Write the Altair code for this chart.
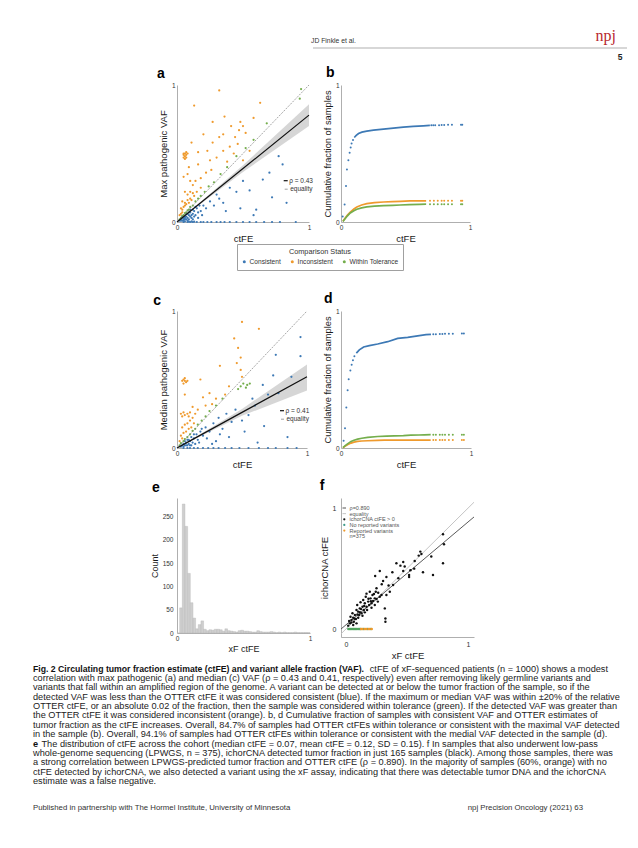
import altair as alt
import pandas as pd

FONT = "Liberation Sans"
BLUE, ORANGE, GREEN = "#3d79b5", "#ef9a2d", "#74ae4c"
STATUS = ["Consistent", "Inconsistent", "Within Tolerance"]

# ---------------- panel a : ctFE vs max pathogenic VAF ----------------
a_consistent = [(0.02,0.01),(0.03,0.02),(0.04,0.01),(0.05,0.03),(0.06,0.02),(0.07,0.04),(0.08,0.03),(0.09,0.05),(0.10,0.04),
    (0.05,0.01),(0.06,0.04),(0.07,0.02),(0.08,0.06),(0.09,0.02),(0.10,0.07),(0.11,0.03),(0.12,0.06),(0.13,0.08),(0.14,0.05),(0.15,0.10),
    (0.04,0.03),(0.03,0.01),(0.12,0.02),(0.16,0.03),(0.18,0.08),(0.20,0.12),(0.22,0.10),(0.25,0.15),(0.28,0.12),(0.30,0.20),
    (0.32,0.17),(0.35,0.14),(0.37,0.08),(0.40,0.25),(0.45,0.22),(0.50,0.30),(0.55,0.23),(0.60,0.09),(0.65,0.31),(0.70,0.36),
    (0.77,0.48),(0.80,0.42),(0.83,0.14),(0.72,0.18),(0.58,0.05),(0.48,0.10),
    (0.03,0.02),(0.04,0.04),(0.05,0.02),(0.06,0.03),(0.07,0.06),(0.08,0.01),(0.09,0.07),(0.11,0.05),(0.12,0.09),(0.10,0.09),
    (0.13,0.04),(0.14,0.11),(0.16,0.07),(0.17,0.12),(0.19,0.05),
    (0.05,0.0),(0.08,0.0),(0.10,0.0),(0.12,0.0),(0.15,0.0),(0.18,0.0),(0.20,0.0),(0.23,0.0),(0.26,0.0),(0.30,0.0),
    (0.33,0.0),(0.36,0.0),(0.40,0.0),(0.45,0.0),(0.50,0.0),(0.55,0.0),(0.60,0.0),(0.66,0.0),(0.72,0.0),(0.78,0.0),(0.90,0.0),
    (0.06,0.005),(0.09,0.003),(0.11,0.004),(0.13,0.002)]
a_inconsistent = [(0.32,0.96),(0.13,0.85),(0.63,0.87),(0.27,0.73),(0.36,0.77),(0.48,0.73),(0.50,0.70),(0.47,0.67),(0.52,0.65),
    (0.41,0.70),(0.58,0.76),(0.20,0.64),(0.35,0.64),(0.11,0.58),(0.16,0.51),(0.27,0.58),(0.23,0.52),(0.35,0.52),(0.40,0.55),
    (0.46,0.57),(0.43,0.50),(0.30,0.47),(0.38,0.44),(0.50,0.45),(0.55,0.52),
    (0.05,0.49),(0.06,0.50),(0.07,0.49),(0.06,0.48),(0.05,0.47),(0.07,0.47),(0.08,0.50),(0.06,0.46),(0.07,0.51),(0.05,0.50),
    (0.05,0.33),(0.08,0.35),(0.10,0.30),(0.12,0.27),(0.14,0.30),(0.18,0.32),(0.22,0.36),(0.26,0.38),(0.06,0.22),(0.08,0.20),
    (0.10,0.22),(0.12,0.21),(0.04,0.15),(0.06,0.14),(0.08,0.16),(0.10,0.17),(0.13,0.19),(0.15,0.22),(0.18,0.25),(0.03,0.10),
    (0.04,0.09),(0.05,0.11),(0.06,0.12),(0.07,0.13),(0.09,0.14),(0.11,0.16),(0.03,0.06),(0.04,0.07),(0.02,0.05),(0.16,0.42),
    (0.09,0.40),(0.32,0.62),(0.44,0.62),(0.25,0.45)]
a_tolerance = [(0.02,0.02),(0.03,0.03),(0.04,0.045),(0.05,0.05),(0.06,0.065),(0.07,0.07),(0.08,0.085),(0.09,0.09),(0.10,0.11),
    (0.12,0.12),(0.14,0.15),(0.16,0.17),(0.18,0.19),(0.21,0.22),(0.24,0.26),(0.28,0.29),(0.33,0.35),(0.38,0.40),(0.45,0.48),
    (0.52,0.54),(0.58,0.60),(0.68,0.72),(0.93,0.90),(0.94,0.97)]
a_fit_x = [0.0, 0.1, 0.5, 1.0]
a_fit_y = [0.0, 0.078, 0.39, 0.78]
a_fit_lo = [-0.01, 0.074, 0.365, 0.70]
a_fit_hi = [0.01, 0.082, 0.415, 0.86]
a_rho = "ρ = 0.43"

# ---------------- panel c : ctFE vs median pathogenic VAF ----------------
c_consistent = [(0.76,0.68),(0.74,0.53),(0.78,0.40),(0.70,0.39),(0.60,0.31),(0.55,0.24),(0.42,0.19),(0.35,0.14),(0.62,0.04),
    (0.85,0.08),(0.95,0.81),(0.95,0.67),(0.50,0.20),(0.45,0.28),(0.38,0.25),(0.32,0.22),(0.28,0.18),(0.25,0.12),(0.22,0.15),
    (0.20,0.09),(0.18,0.12),(0.16,0.06),(0.15,0.10),(0.13,0.07),(0.12,0.04),(0.11,0.08),(0.10,0.05),(0.09,0.03),(0.08,0.06),
    (0.07,0.04),(0.06,0.02),(0.05,0.03),(0.04,0.02),(0.03,0.01),(0.06,0.05),(0.08,0.02),(0.10,0.02),(0.14,0.03),(0.30,0.05),
    (0.40,0.08),(0.66,0.46),(0.58,0.36),(0.67,0.16),(0.52,0.12),(0.88,0.52),(0.05,0.01),(0.07,0.02),(0.09,0.06),(0.11,0.02),
    (0.13,0.10),(0.17,0.04),(0.19,0.14),(0.23,0.07),(0.27,0.03),(0.33,0.10),
    (0.05,0.0),(0.08,0.0),(0.10,0.0),(0.13,0.0),(0.16,0.0),(0.20,0.0),(0.24,0.0),(0.28,0.0),(0.32,0.0),(0.37,0.0),
    (0.42,0.0),(0.48,0.0),(0.55,0.0),(0.63,0.0),(0.70,0.0),(0.76,0.0),(0.85,0.0),(0.92,0.0)]
c_inconsistent = [(0.50,0.92),(0.63,0.87),(0.44,0.80),(0.47,0.73),(0.49,0.66),(0.46,0.62),(0.49,0.57),(0.50,0.52),(0.40,0.45),
    (0.37,0.39),(0.27,0.32),(0.22,0.31),(0.06,0.39),(0.18,0.50),(0.30,0.36),(0.25,0.40),
    (0.04,0.49),(0.05,0.50),(0.06,0.49),(0.07,0.48),(0.05,0.47),(0.08,0.49),(0.06,0.51),
    (0.03,0.25),(0.05,0.26),(0.06,0.24),(0.08,0.25),(0.09,0.23),(0.10,0.26),(0.04,0.23),
    (0.04,0.15),(0.06,0.17),(0.08,0.18),(0.10,0.20),(0.12,0.22),(0.14,0.25),(0.16,0.28),(0.03,0.09),(0.05,0.11),(0.07,0.12),
    (0.09,0.14),(0.11,0.15),(0.13,0.18),(0.02,0.05),(0.04,0.07),(0.20,0.37),(0.12,0.30),(0.33,0.60)]
c_tolerance = [(0.51,0.47),(0.54,0.46),(0.49,0.45),(0.53,0.44),(0.56,0.47),(0.47,0.43),
    (0.02,0.02),(0.03,0.035),(0.05,0.05),(0.06,0.065),(0.08,0.08),(0.10,0.10),(0.12,0.125),(0.14,0.14),(0.16,0.17),
    (0.19,0.20),(0.22,0.23),(0.25,0.27),(0.30,0.31),(0.35,0.36)]
c_fit_x = [0.0, 0.1, 0.5, 1.0]
c_fit_y = [0.0, 0.052, 0.26, 0.52]
c_fit_lo = [-0.01, 0.048, 0.235, 0.42]
c_fit_hi = [0.01, 0.056, 0.285, 0.61]
c_rho = "ρ = 0.41"

equality_x = [0.0, 1.0]
equality_y = [0.0, 1.0]

# ---------------- panels b, d : cumulative fraction of samples ----------------
b_curves = {
    "Consistent": {
        "line": [(0.103,0.617),(0.118,0.632),(0.136,0.646),(0.162,0.656),(0.20,0.663),(0.252,0.671),(0.329,0.678),
                 (0.406,0.685),(0.483,0.693),(0.56,0.698),(0.638,0.702),(0.689,0.705)],
        "dots": [(0.013,0.041),(0.028,0.127),(0.039,0.263),(0.046,0.383),(0.057,0.451),(0.067,0.505),(0.075,0.544),
                 (0.082,0.573),(0.093,0.598),(0.70,0.706),(0.715,0.706),(0.73,0.707),(0.76,0.707),(0.78,0.708),
                 (0.80,0.708),(0.83,0.71),(0.86,0.71),(0.93,0.71),(0.94,0.71)]},
    "Inconsistent": {
        "line": [(0.015,0.005),(0.03,0.025),(0.05,0.05),(0.072,0.073),(0.10,0.095),(0.123,0.11),(0.16,0.124),(0.20,0.134),
                 (0.26,0.141),(0.33,0.146),(0.40,0.149),(0.46,0.151),(0.535,0.154),(0.60,0.154),(0.66,0.154)],
        "dots": [(0.69,0.155),(0.72,0.155),(0.75,0.155),(0.78,0.155),(0.80,0.155),(0.83,0.155),(0.86,0.155),
                 (0.93,0.155),(0.94,0.155)]},
    "Within Tolerance": {
        "line": [(0.015,0.004),(0.03,0.022),(0.05,0.045),(0.072,0.066),(0.10,0.082),(0.123,0.093),(0.16,0.103),(0.20,0.11),
                 (0.26,0.116),(0.33,0.12),(0.40,0.122),(0.46,0.124),(0.53,0.127),(0.61,0.129),(0.66,0.13)],
        "dots": [(0.69,0.13),(0.72,0.13),(0.75,0.13),(0.78,0.13),(0.80,0.13),(0.83,0.13),(0.86,0.13),(0.93,0.13),(0.94,0.13)]},
}
d_curves = {
    "Consistent": {
        "line": [(0.118,0.692),(0.141,0.716),(0.174,0.737),(0.218,0.747),(0.282,0.759),(0.359,0.776),(0.436,0.80),
                 (0.513,0.807),(0.59,0.819),(0.654,0.827),(0.692,0.829)],
        "dots": [(0.02,0.053),(0.031,0.145),(0.041,0.296),(0.051,0.422),(0.059,0.501),(0.072,0.566),(0.082,0.607),
                 (0.092,0.641),(0.103,0.67),(0.71,0.83),(0.73,0.831),(0.76,0.832),(0.78,0.833),(0.80,0.834),
                 (0.83,0.834),(0.86,0.834),(0.93,0.835),(0.945,0.835)]},
    "Inconsistent": {
        "line": [(0.015,0.002),(0.03,0.012),(0.05,0.024),(0.077,0.036),(0.10,0.043),(0.128,0.048),(0.16,0.051),(0.205,0.053),
                 (0.28,0.056),(0.333,0.058),(0.42,0.058),(0.538,0.058),(0.60,0.058),(0.69,0.058)],
        "dots": [(0.71,0.058),(0.73,0.058),(0.76,0.058),(0.78,0.058),(0.80,0.058),(0.83,0.058),(0.86,0.058),
                 (0.93,0.058),(0.945,0.058)]},
    "Within Tolerance": {
        "line": [(0.015,0.003),(0.03,0.015),(0.05,0.03),(0.077,0.048),(0.10,0.057),(0.128,0.065),(0.16,0.071),(0.205,0.077),
                 (0.282,0.084),(0.35,0.087),(0.41,0.089),(0.48,0.091),(0.538,0.094),(0.60,0.095),(0.641,0.096),(0.69,0.097)],
        "dots": [(0.71,0.097),(0.73,0.097),(0.76,0.097),(0.78,0.097),(0.80,0.097),(0.83,0.097),(0.86,0.097),
                 (0.93,0.097),(0.945,0.097)]},
}

# ---------------- panel e : histogram of xF ctFE ----------------
e_bin_width = 0.02
e_counts = [0, 54, 277, 229, 128, 65, 32, 9, 18, 26, 8, 5, 7, 6, 8, 8, 7, 4, 9, 5,
            4, 3, 2, 5, 6, 4, 4, 3, 2, 2, 5, 3, 2, 2, 2, 3, 2, 1, 2, 1,
            2, 1, 1, 1, 2, 1, 1, 1, 1, 1]
e_yticks = [0, 50, 100, 150, 200, 250]

# ---------------- panel f : ichorCNA ctFE vs xF ctFE ----------------
f_ichor = [(0.796,0.785),(0.804,0.702),(0.796,0.544),(0.714,0.448),(0.632,0.470),(0.700,0.600),(0.610,0.641),(0.619,0.622),
    (0.597,0.608),(0.564,0.564),(0.518,0.448),(0.518,0.431),(0.529,0.486),(0.482,0.517),(0.447,0.525),(0.414,0.544),
    (0.381,0.470),(0.332,0.431),(0.278,0.481),(0.240,0.439),(0.305,0.398),(0.294,0.370),(0.251,0.337),(0.332,0.282),
    (0.319,0.171),(0.324,0.088),(0.324,0.061),(0.278,0.268),(0.218,0.282),(0.202,0.254),(0.237,0.254),(0.262,0.227),
    (0.183,0.227),(0.163,0.268),(0.155,0.213),(0.136,0.185),(0.114,0.171),(0.101,0.144),(0.087,0.157),(0.074,0.116),
    (0.060,0.094),(0.046,0.075),(0.033,0.047),(0.019,0.028),(0.054,0.130),(0.082,0.083),(0.109,0.116),(0.128,0.130),
    (0.147,0.157),(0.169,0.185),(0.191,0.199),(0.210,0.213),(0.223,0.232),(0.065,0.061),(0.038,0.102),(0.093,0.199),
    (0.120,0.221),(0.142,0.240),(0.245,0.309),(0.292,0.282),(0.360,0.309),(0.387,0.365),(0.196,0.309),(0.169,0.293),
    (0.060,0.033),(0.087,0.047),(0.027,0.066),(0.101,0.094),(0.155,0.138),(0.174,0.157),(0.210,0.177),(0.237,0.199),
    (0.251,0.249),(0.136,0.110),(0.045,0.055),(0.070,0.085),(0.095,0.120),(0.115,0.140),(0.125,0.165),(0.150,0.190),
    (0.185,0.250),(0.205,0.230),(0.230,0.290),(0.265,0.300),(0.350,0.360),(0.430,0.420),(0.470,0.480),(0.560,0.500),
    (0.470,0.555)]
f_no_variants = [(0.02,0),(0.03,0),(0.04,0),(0.05,0),(0.06,0),(0.07,0),(0.08,0),(0.09,0),(0.10,0),(0.11,0),(0.12,0),
    (0.145,0),(0.175,0),(0.205,0)]
f_reported = [(0.125,0),(0.135,0),(0.155,0),(0.165,0),(0.185,0),(0.195,0),(0.212,0)]
f_fit_x = [-0.04, 1.05]
f_fit_y = [0.0, 0.928]
f_eq_x = [-0.04, 1.05]
f_eq_y = [-0.04, 1.05]
f_legend = ["ρ=0.890", "equality", "ichorCNA ctFE > 0", "No reported variants", "Reported variants", "n=375"]

# ---------------- page text ----------------
header_author = "JD Finkle et al."
header_logo = "npj"
header_page = "5"
caption_lead = "Fig. 2   Circulating tumor fraction estimate (ctFE) and variant allele fraction (VAF)."
caption_first_rest = "ctFE of xF-sequenced patients (n = 1000) shows a modest"
caption_lines = [
    "correlation with max pathogenic (a) and median (c) VAF (ρ = 0.43 and 0.41, respectively) even after removing likely germline variants and",
    "variants that fall within an amplified region of the genome. A variant can be detected at or below the tumor fraction of the sample, so if the",
    "detected VAF was less than the OTTER ctFE it was considered consistent (blue). If the maximum or median VAF was within ±20% of the relative",
    "OTTER ctFE, or an absolute 0.02 of the fraction, then the sample was considered within tolerance (green). If the detected VAF was greater than",
    "the OTTER ctFE it was considered inconsistent (orange). b, d Cumulative fraction of samples with consistent VAF and OTTER estimates of",
    "tumor fraction as the ctFE increases. Overall, 84.7% of samples had OTTER ctFEs within tolerance or consistent with the maximal VAF detected",
    "in the sample (b). Overall, 94.1% of samples had OTTER ctFEs within tolerance or consistent with the medial VAF detected in the sample (d).",
    "The distribution of ctFE across the cohort (median ctFE = 0.07, mean ctFE = 0.12, SD = 0.15). f In samples that also underwent low-pass",
    "whole-genome sequencing (LPWGS, n = 375), ichorCNA detected tumor fraction in just 165 samples (black). Among those samples, there was",
    "a strong correlation between LPWGS-predicted tumor fraction and OTTER ctFE (ρ = 0.890). In the majority of samples (60%, orange) with no",
    "ctFE detected by ichorCNA, we also detected a variant using the xF assay, indicating that there was detectable tumor DNA and the ichorCNA",
    "estimate was a false negative.",
]
caption_bold_start = {8: "e"}   # caption line that starts with a bold panel letter
footer_left = "Published in partnership with The Hormel Institute, University of Minnesota"
footer_right = "npj Precision Oncology (2021) 63"

CAP = 9.2

# ---------------- helpers ----------------
def axis(title, values, fmt="d", lpad=2, tpad=3, lsize=6.5, tsize=9.5):
    return alt.Axis(title=title, values=values, format=fmt, grid=False, ticks=False,
                    domainColor="#9b9b9b", domainWidth=0.8, labelFont=FONT, labelFontSize=lsize,
                    labelColor="#333333", labelPadding=lpad, labelFlush=False, labelOverlap=False,
                    titleFont=FONT, titleFontSize=tsize, titleFontWeight="normal",
                    titleColor="#1a1a1a", titlePadding=tpad)


def xy(xf, yf, xs, ys, xa, ya):
    return dict(x=alt.X(xf, type="quantitative", scale=xs, axis=xa),
                y=alt.Y(yf, type="quantitative", scale=ys, axis=ya))


def status_color(show=True):
    sc = alt.Scale(domain=STATUS, range=[BLUE, ORANGE, GREEN])
    if show:
        return alt.Color("status:N", scale=sc, legend=alt.Legend(title="Comparison Status"))
    return alt.Color("status:N", scale=sc, legend=None)


def one():
    return pd.DataFrame({"v": [0]})


def label(text, x, y, size=6.5, color="#333333", weight="normal", align="left", baseline="middle", font=FONT):
    return alt.Chart(pd.DataFrame({"t": [text]})).mark_text(
        align=align, baseline=baseline, fontSize=size, font=font, fontWeight=weight, color=color
    ).encode(text="t:N", x=alt.value(x), y=alt.value(y))


def seg(x1, x2, y, color, width):
    return alt.Chart(one()).mark_rule(color=color, strokeWidth=width).encode(
        x=alt.value(x1), x2=alt.value(x2), y=alt.value(y))


def dot(x, y, color, size=7):
    return alt.Chart(one()).mark_circle(color=color, size=size, opacity=1).encode(
        x=alt.value(x), y=alt.value(y))


def spacer(w, h):
    return alt.Chart(one()).mark_point(opacity=0, size=1).encode(
        x=alt.value(5), y=alt.value(5)).properties(width=w, height=h)


def letter(ch, dx, dy):
    return label(ch, dx, dy, size=14, color="#000000", weight="bold", baseline="alphabetic")


def scatter_panel(groups, fx, fy, flo, fhi, ytitle, rho, w, h, let, let_pos, leg):
    xs = alt.Scale(domain=[0, 1], nice=False, zero=False)
    ys = alt.Scale(domain=[0, 1], nice=False, zero=False)
    xa = axis("ctFE", [0, 1])
    ya = axis(ytitle, [0, 1])
    df = pd.DataFrame([(x, y, s) for s, pts in zip(STATUS, groups) for x, y in pts],
                      columns=["x", "y", "status"])
    fit = pd.DataFrame({"x": fx, "fit": fy, "lo": flo, "hi": fhi})
    eq = pd.DataFrame({"x": equality_x, "y": equality_y})
    band = alt.Chart(fit).mark_area(color="#d2d2d2", opacity=0.9).encode(
        **xy("x", "lo", xs, ys, xa, ya), y2=alt.Y2("hi"))
    pts = alt.Chart(df).mark_circle(size=5, opacity=1).encode(
        **xy("x", "y", xs, ys, xa, ya), color=status_color())
    eql = alt.Chart(eq).mark_line(color="#808080", strokeWidth=0.7, strokeDash=[2, 1.2]).encode(
        **xy("x", "y", xs, ys, xa, ya))
    fitl = alt.Chart(fit).mark_line(color="#111111", strokeWidth=1.2).encode(
        **xy("x", "fit", xs, ys, xa, ya))
    lx, ly = leg
    layers = [band, pts, eql, fitl,
              seg(lx, lx + 4, ly, "#111111", 1.2), label(rho, lx + 5.5, ly),
              seg(lx + 1, lx + 4, ly + 8.5, "#888888", 0.8), label("equality", lx + 6.5, ly + 8.5),
              letter(let, *let_pos)]
    return alt.layer(*layers).properties(width=w, height=h)


def cum_panel(curves, w, h, let, let_pos):
    xs = alt.Scale(domain=[0, 1], nice=False, zero=False)
    ys = alt.Scale(domain=[0, 1], nice=False, zero=False)
    xa = axis("ctFE", [0, 1])
    ya = axis("Cumulative fraction of samples", [0, 1], tsize=9.3)
    lines = pd.DataFrame([(x, y, s) for s in STATUS for x, y in curves[s]["line"]], columns=["x", "y", "status"])
    dots = pd.DataFrame([(x, y, s) for s in STATUS for x, y in curves[s]["dots"]], columns=["x", "y", "status"])
    ln = alt.Chart(lines).mark_line(strokeWidth=1.7).encode(**xy("x", "y", xs, ys, xa, ya), color=status_color(False))
    dt = alt.Chart(dots).mark_circle(size=4, opacity=1).encode(**xy("x", "y", xs, ys, xa, ya), color=status_color())
    return alt.layer(ln, dt, letter(let, *let_pos)).properties(width=w, height=h)


# ---------------- panels ----------------
pa = scatter_panel([a_consistent, a_inconsistent, a_tolerance], a_fit_x, a_fit_y, a_fit_lo, a_fit_hi,
                   "Max pathogenic VAF", a_rho, 132, 137, "a", (-20, -6.7), (106.7, 95.7))
pb = cum_panel(b_curves, 129, 137, "b", (-15, -8.3))
pc = scatter_panel([c_consistent, c_inconsistent, c_tolerance], c_fit_x, c_fit_y, c_fit_lo, c_fit_hi,
                   "Median pathogenic VAF", c_rho, 130, 137, "c", (-23.7, -6), (103, 99.7))
pd_ = cum_panel(d_curves, 130, 137, "d", (-17, -7.7))

# panel e
e_df = pd.DataFrame({"start": [i * e_bin_width for i in range(len(e_counts))], "count": e_counts})
e_df["end"] = e_df["start"] + e_bin_width
exs = alt.Scale(domain=[0, 1], nice=False, zero=False)
eys = alt.Scale(domain=[0, 290], nice=False)
pe = alt.layer(
    alt.Chart(e_df).mark_bar(color="#cfcfcf", stroke="#b5b5b5", strokeWidth=0.4).encode(
        x=alt.X("start:Q", scale=exs, axis=axis("xF ctFE", [0, 1], tsize=9)),
        x2=alt.X2("end"),
        y=alt.Y("count:Q", scale=eys, axis=axis("Count", e_yticks, lpad=4, tpad=3, tsize=9)),
        y2=alt.datum(0)),
    letter("e", -25, -6.3),
).properties(width=133, height=135)

# panel f
fxs = alt.Scale(domain=[-0.04, 1.05], nice=False, zero=False)
fys = alt.Scale(domain=[-0.066, 1.085], nice=False, zero=False)
fxa = axis("xF ctFE", [0, 1], lpad=3, lsize=7, tsize=9.5)
fya = axis("ichorCNA ctFE", [0, 1], lpad=5, lsize=7, tsize=9.5)
f_pts = pd.DataFrame([(x, y) for x, y in f_ichor], columns=["x", "y"])
f_none = pd.DataFrame([(x, y) for x, y in f_no_variants], columns=["x", "y"])
f_rep = pd.DataFrame([(x, y) for x, y in f_reported], columns=["x", "y"])
f_fit = pd.DataFrame({"x": f_fit_x, "y": f_fit_y})
f_eq = pd.DataFrame({"x": f_eq_x, "y": f_eq_y})
f_layers = [
    alt.Chart(f_eq).mark_line(color="#c4c4c4", strokeWidth=1, clip=True).encode(**xy("x", "y", fxs, fys, fxa, fya)),
    alt.Chart(f_fit).mark_line(color="#5a5a5a", strokeWidth=1, clip=True).encode(**xy("x", "y", fxs, fys, fxa, fya)),
    alt.Chart(f_none).mark_circle(size=6, opacity=1, color="#4fa35e").encode(**xy("x", "y", fxs, fys, fxa, fya)),
    alt.Chart(f_rep).mark_circle(size=6, opacity=1, color=ORANGE).encode(**xy("x", "y", fxs, fys, fxa, fya)),
    alt.Chart(f_pts).mark_circle(size=6, opacity=1, color="#111111").encode(**xy("x", "y", fxs, fys, fxa, fya)),
    letter("f", -21.3, -8),
]
f_sym = [("line", "#555555"), ("line", "#c4c4c4"), ("dot", "#111111"), ("dot", "#3d9a8a"), ("dot", ORANGE), (None, None)]
for i, (txt, (kind, col)) in enumerate(zip(f_legend, f_sym)):
    yy = 10 + i * 5.65
    if kind == "line":
        f_layers.append(seg(1.5, 5, yy, col, 1))
    elif kind == "dot":
        f_layers.append(dot(3.3, yy, col, 5))
    f_layers.append(label(txt, 8.5, yy, size=5.5, color="#555555"))
pf = alt.layer(*f_layers).properties(width=133, height=139)

# ---------------- header and caption (drawn from the left column cells) ----------------
COL0, COL1, COL2 = 169, 164, 133
header = alt.layer(
    label(header_author, 303, 35, size=6.8, color="#333333", baseline="alphabetic"),
    label(header_logo, 608, 33, size=16, color="#b8282e", align="right", baseline="alphabetic", font="Liberation Serif"),
    seg(305, 619, 40, "#8c8c8c", 0.7),
    label(header_page, 612, 52, size=8.5, color="#222222", weight="bold", align="center", baseline="alphabetic"),
).properties(width=COL0, height=77)

cap_y = alt.Scale(domain=[0, 12], range=[31.5, 144])
plain_rows = [(i + 1, t) for i, t in enumerate(caption_lines) if (i + 1) not in caption_bold_start]
lead_rows = [(i + 1, t) for i, t in enumerate(caption_lines) if (i + 1) in caption_bold_start]
cap_df = pd.DataFrame(plain_rows, columns=["i", "t"])
lead_df = pd.DataFrame(lead_rows, columns=["i", "t"])
bold_df = pd.DataFrame(list(caption_bold_start.items()), columns=["i", "t"])
caption = alt.layer(
    alt.Chart(pd.DataFrame({"i": [0], "t": [caption_lead]})).mark_text(
        align="left", baseline="middle", font=FONT, fontSize=CAP - 0.5, fontWeight="bold", color="#111111"
    ).encode(x=alt.value(25), y=alt.Y("i:Q", scale=cap_y, axis=None), text="t:N"),
    alt.Chart(pd.DataFrame({"i": [0], "t": [caption_first_rest]})).mark_text(
        align="right", baseline="middle", font=FONT, fontSize=CAP, color="#222222"
    ).encode(x=alt.value(600), y=alt.Y("i:Q", scale=cap_y, axis=None), text="t:N"),
    alt.Chart(cap_df).mark_text(
        align="left", baseline="middle", font=FONT, fontSize=CAP, color="#222222"
    ).encode(x=alt.value(25), y=alt.Y("i:Q", scale=cap_y, axis=None), text="t:N"),
    alt.Chart(bold_df).mark_text(
        align="left", baseline="middle", font=FONT, fontSize=CAP, fontWeight="bold", color="#111111"
    ).encode(x=alt.value(25), y=alt.Y("i:Q", scale=cap_y, axis=None), text="t:N"),
    alt.Chart(lead_df).mark_text(
        align="left", baseline="middle", font=FONT, fontSize=CAP, color="#222222"
    ).encode(x=alt.value(33.5), y=alt.Y("i:Q", scale=cap_y, axis=None), text="t:N"),
    label(footer_left, 25, 171, size=7.8, color="#333333"),
    label(footer_right, 575, 171, size=7.8, color="#333333", align="right"),
).properties(width=COL0, height=190)

cells = [
    header, spacer(COL1, 77), spacer(COL2, 77),
    spacer(COL0, 137), pa, pb,
    spacer(COL0, 89), spacer(COL1, 89), spacer(COL2, 89),
    spacer(COL0, 137), pc, pd_,
    spacer(COL0, 50), spacer(COL1, 50), spacer(COL2, 50),
    spacer(COL0, 139), pe, pf,
    caption, spacer(COL1, 190), spacer(COL2, 190),
]

chart = alt.concat(*cells, columns=3, spacing=0, bounds="flush", align="each").properties(
    padding=0
).configure_view(stroke=None).configure_legend(
    orient="none", legendX=229, legendY=236, direction="horizontal", titleAnchor="middle",
    titleFontSize=7.3, titleFontWeight="normal", titleColor="#333333", titlePadding=3,
    labelFontSize=6.6, labelColor="#333333", labelOffset=2, symbolSize=9, symbolType="circle",
    symbolStrokeWidth=0, columnPadding=8, padding=4, strokeColor="#a0a0a0", fillColor="#ffffff",
    cornerRadius=0, titleFont=FONT, labelFont=FONT,
)

chart.save("out.html", embed_options={"renderer": "svg", "actions": False})
